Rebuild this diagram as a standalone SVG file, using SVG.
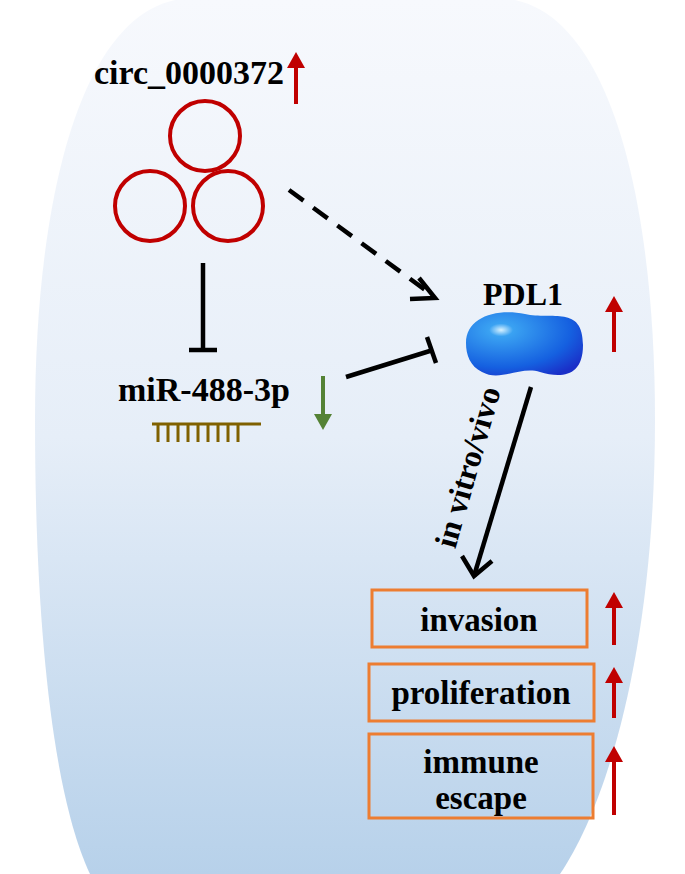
<svg xmlns="http://www.w3.org/2000/svg" width="685" height="874" viewBox="0 0 685 874">
<defs>
<linearGradient id="bg" x1="0" y1="0" x2="0" y2="1"><stop offset="0" stop-color="#f7f9fd"/><stop offset="0.5" stop-color="#e6eef8"/><stop offset="1" stop-color="#b7d1ea"/></linearGradient>
<radialGradient id="blob" cx="0.3" cy="0.28" r="0.85"><stop offset="0" stop-color="#d8f2ff"/><stop offset="0.12" stop-color="#3aa2f2"/><stop offset="0.7" stop-color="#1560e0"/><stop offset="1" stop-color="#1a2fc8"/></radialGradient>
</defs>
<style>
.t{font-family:"Liberation Serif",serif;font-weight:bold;fill:#000}
.red{fill:none;stroke:#c00000;stroke-width:4}
.box{fill:none;stroke:#ed7d31;stroke-width:3}
.ln{stroke:#000;stroke-width:4.5;fill:none}
</style>
<path d="M175,0 L515,0 C610,20 655,200 655,420 C655,640 610,800 560,874 L90,874 C55,800 35,640 35,420 C35,200 80,20 175,0 Z" fill="url(#bg)"/>
<g id="circ">
<text class="t" x="94" y="84" font-size="34" textLength="190" lengthAdjust="spacingAndGlyphs">circ_0000372</text>
<circle class="red" cx="205" cy="136" r="35"/>
<circle class="red" cx="150" cy="206" r="35"/>
<circle class="red" cx="228" cy="206" r="35"/>
<line x1="296" y1="104" x2="296" y2="66" stroke="#c00000" stroke-width="4"/><polygon points="287,68 296,52 305,68" fill="#c00000"/>
</g>
<g id="mir">
<text class="t" x="118" y="401" font-size="34" textLength="172" lengthAdjust="spacingAndGlyphs">miR-488-3p</text>
<path d="M152,424 H261 M158,424 V442 M168,424 V442 M178,424 V442 M188,424 V442 M198,424 V442 M208,424 V442 M218,424 V442 M228,424 V442 M238,424 V442" stroke="#7f6000" stroke-width="3"/>
<line x1="323" y1="376" x2="323" y2="416" stroke="#548235" stroke-width="4"/><polygon points="314,414 323,430 332,414" fill="#548235"/>
</g>
<g id="pdl1">
<text class="t" x="523" y="305" font-size="32" text-anchor="middle">PDL1</text>
<path d="M466,343 C466,318 495,308 525,314 C552,320 583,305 583,345 C583,378 560,378 540,372 C520,366 500,382 482,372 C470,366 466,355 466,343 Z" fill="url(#blob)"/>
<line x1="614" y1="352" x2="614" y2="310" stroke="#c00000" stroke-width="4"/><polygon points="605,312 614,296 623,312" fill="#c00000"/>
</g>
<g id="invasion"><rect class="box" x="372" y="590" width="215" height="57"/><text class="t" x="479" y="631" font-size="33" text-anchor="middle">invasion</text>
<line x1="614" y1="645" x2="614" y2="606" stroke="#c00000" stroke-width="4"/><polygon points="605,608 614,592 623,608" fill="#c00000"/></g>
<g id="proliferation"><rect class="box" x="369" y="664" width="225" height="57"/><text class="t" x="481" y="704" font-size="33" text-anchor="middle">proliferation</text>
<line x1="614" y1="718" x2="614" y2="681" stroke="#c00000" stroke-width="4"/><polygon points="605,683 614,667 623,683" fill="#c00000"/></g>
<g id="immune"><rect class="box" x="369" y="734" width="224" height="84"/><text class="t" x="481" y="773" font-size="33" text-anchor="middle">immune</text><text class="t" x="481" y="809" font-size="33" text-anchor="middle">escape</text>
<line x1="614" y1="815" x2="614" y2="760" stroke="#c00000" stroke-width="4"/><polygon points="605,762 614,746 623,762" fill="#c00000"/></g>
<g id="connectors">
<line class="ln" x1="289" y1="190" x2="428" y2="292" stroke-dasharray="18,12"/>
<path class="ln" d="M419,278 L435,298 L410,299"/>
<line class="ln" x1="203" y1="263" x2="203" y2="350"/>
<line class="ln" x1="189" y1="350" x2="217" y2="350"/>
<line class="ln" x1="346" y1="377" x2="433" y2="350"/>
<line class="ln" x1="427" y1="337" x2="436" y2="363"/>
<line class="ln" x1="531" y1="387" x2="474" y2="576"/>
<path class="ln" d="M462,556 L474,576 L492,561"/>
<text class="t" x="0" y="0" font-size="32" text-anchor="middle" transform="translate(478,470) rotate(-74)">in vitro/vivo</text>
</g>
</svg>
